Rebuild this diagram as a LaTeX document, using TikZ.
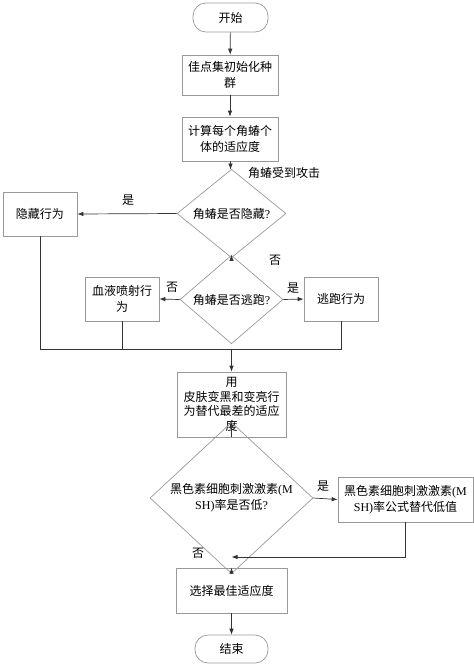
\documentclass[tikz,border=0pt]{standalone}
\usepackage{fontspec}
\setmainfont{Liberation Serif}
\newfontfamily\cjk{Noto Sans CJK SC}
\usetikzlibrary{shapes.geometric,arrows.meta}
\begin{document}
\begin{tikzpicture}[x=1pt,y=-1pt,
  every node/.style={font=\fontsize{12}{16}\selectfont\cjk, text=black},
  boxst/.style={draw=black!40, line width=0.7pt, rectangle, align=center, inner sep=1pt},
  termst/.style={draw=black!40, line width=0.7pt, rectangle, rounded corners=13pt, align=center},
  decst/.style={draw=black!40, line width=0.7pt, diamond, align=center, inner sep=0pt},
  lbl/.style={font=\fontsize{12}{14}\selectfont\cjk},
  conn/.style={draw=black!80, line width=0.7pt},
  arr/.style={conn, -{Latex[length=6pt,width=4.5pt]}}]
\useasboundingbox (0,0) rectangle (474,667);
\node[termst, minimum width=75pt, minimum height=29pt] (start) at (230.5,17.5) {开始};
\node[boxst, minimum width=96pt, minimum height=40pt] (init) at (230,75) {佳点集初始化种\\群};
\node[boxst, minimum width=96pt, minimum height=44pt] (fit) at (230,139) {计算每个角蝽个\\体的适应度};
\node[decst, minimum width=109pt, minimum height=67pt] (d1) at (231.5,213.5) {角蝽是否隐藏{\rmfamily ?}};
\node[boxst, minimum width=74pt, minimum height=44pt] (hide) at (40,214) {隐藏行为};
\node[decst, minimum width=103pt, minimum height=67pt] (d2) at (231.5,299.5) {角蝽是否逃跑{\rmfamily ?}};
\node[boxst, minimum width=74pt, minimum height=44pt] (blood) at (122,299) {血液喷射行\\为};
\node[boxst, minimum width=74pt, minimum height=44pt] (flee) at (341,299) {逃跑行为};
\node[boxst, minimum width=109pt, minimum height=65pt, font=\fontsize{12}{14.5}\selectfont\cjk] (skin) at (231.5,404.5) {用\\皮肤变黑和变亮行\\为替代最差的适应\\度};
\node[decst, minimum width=163pt, minimum height=104pt] (d3) at (231.5,498) {黑色素细胞刺激激素{\rmfamily (M}\\{\rmfamily SH)}率是否低{\rmfamily ?}};
\node[boxst, minimum width=135pt, minimum height=45pt] (msh) at (405.5,499.5) {黑色素细胞刺激激素{\rmfamily (M}\\{\rmfamily SH)}率公式替代低值};
\node[boxst, minimum width=111pt, minimum height=45pt] (best) at (231.5,590.5) {选择最佳适应度};
\node[termst, minimum width=73pt, minimum height=28pt] (end) at (231.5,649) {结束};
\coordinate (hl) at (40,349);
\coordinate (bl) at (122,349);
\coordinate (fl) at (341,349);
\coordinate (merge) at (231.5,349);
\coordinate (mshc) at (405.5,557);
\coordinate (join) at (231.5,557);
\draw[arr] (start) -- (init);
\draw[arr] (init) -- (fit);
\draw[arr] (fit) -- (d1);
\node[lbl] (attack) at (284,173) {角蝽受到攻击};
\draw[arr] (d1.west) -- (hide.east);
\node[lbl] (yes1) at (128,200) {是};
\draw[arr] (d1.south) -- (d2.north);
\node[lbl] (no1) at (275,260) {否};
\draw[arr] (d2.west) -- (blood.east);
\node[lbl] (no2) at (172,287) {否};
\draw[arr] (d2.east) -- (flee.west);
\node[lbl] (yes2) at (293,288) {是};
\draw[conn] (hide.south) -- (hl) -- (fl) -- (flee.south);
\draw[conn] (blood.south) -- (bl);
\draw[arr] (merge) -- (skin.north);
\draw[arr] (skin.south) -- (d3.north);
\draw[arr] (d3.east) -- (msh.west);
\node[lbl] (yes3) at (323,486) {是};
\draw[arr] (d3.south) -- (best.north);
\node[lbl] (no3) at (198,553) {否};
\draw[arr] (msh.south) -- (mshc) -- (join);
\draw[arr] (best) -- (end);
\end{tikzpicture}
\end{document}
